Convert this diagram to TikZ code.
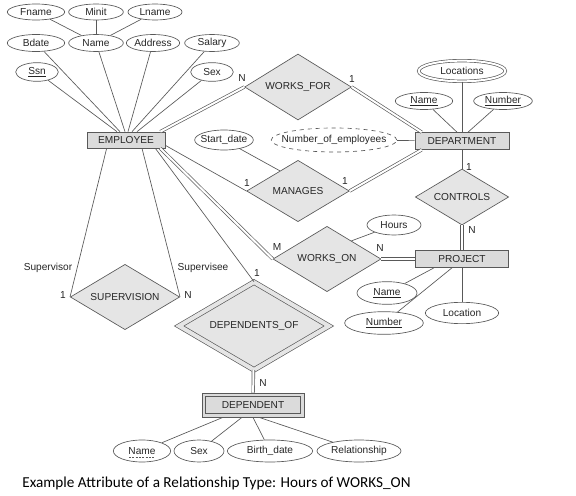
\documentclass[tikz,border=0pt]{standalone}
\usepackage{fontspec}
\setmainfont{Liberation Sans}
\newfontfamily\captionfont{Carlito}
\usetikzlibrary{shapes.geometric,calc}
\definecolor{linegray}{gray}{0.35}
\definecolor{boxgray}{gray}{0.86}
\definecolor{diagray}{gray}{0.9}
\tikzset{
  every node/.style={font=\fontsize{7.6}{9}\selectfont, text=black!85},
  entity/.style={rectangle, draw=linegray, fill=boxgray, inner sep=0pt, minimum height=12pt},
  rel/.style={diamond, aspect=2, draw=linegray, fill=diagray, inner sep=0pt},
  idrel/.style={rel, double=diagray, double distance=3pt},
  attr/.style={ellipse, draw=linegray, fill=white, inner xsep=-3pt, inner ysep=0pt, minimum height=12.75pt},
  multiattr/.style={attr, double, double distance=1.5pt},
  derivedattr/.style={attr, dashed},
  total/.style={double, double distance=1.5pt},
  lbl/.style={inner sep=1pt}
}
\begin{document}
\begin{tikzpicture}[x=0.75pt, y=-0.75pt, line width=0.5pt, draw=linegray]
        \useasboundingbox (0,0) rectangle (576,496);
        \node[attr, minimum width=43pt, minimum height=12pt] (fname) at (36,12) {Fname};
        \node[attr, minimum width=41pt, minimum height=12pt] (minit) at (96,12) {Minit};
        \node[attr, minimum width=40.5pt, minimum height=12pt] (lname) at (155,12) {Lname};
        \node[attr, minimum width=43pt] (bdate) at (36,43) {Bdate};
        \node[attr, minimum width=41pt] (ename) at (96,43) {Name};
        \node[attr, minimum width=40pt] (address) at (153,43) {Address};
        \node[attr, minimum width=41pt] (salary) at (212,43) {Salary};
        \node[attr, minimum width=32pt, minimum height=14pt] (ssn) at (37,72) {\underline{Ssn}};
        \node[attr, minimum width=32pt, minimum height=14pt] (esex) at (212,72) {Sex};
        \node[entity, minimum width=58.5pt] (emp) at (126,140) {EMPLOYEE};
        \node[attr, minimum width=44pt, minimum height=15pt] (startdate) at (224,140) {Start\_date};
        \node[derivedattr, inner xsep=-6pt, minimum width=94pt, minimum height=18pt] (numemp) at (334,140) {Number\_of\_employees};
        \node[rel, minimum width=80pt, minimum height=49.5pt] (worksfor) at (298,87) {WORKS\_FOR};
        \node[entity, minimum width=70.5pt, minimum height=12.75pt] (dept) at (462,141) {DEPARTMENT};
        \node[multiattr, minimum width=65pt, minimum height=15.5pt] (locations) at (462,71) {Locations};
        \node[attr, minimum width=43pt] (dname) at (424,101) {\underline{Name}};
        \node[attr, minimum width=44pt] (dnumber) at (503,101) {\underline{Number}};
        \node[rel, minimum width=77pt, minimum height=46pt] (manages) at (298,191) {MANAGES};
        \node[rel, minimum width=70pt, minimum height=42pt] (controls) at (462,197) {CONTROLS};
        \node[attr, minimum width=40.5pt, minimum height=15pt] (hours) at (394,225) {Hours};
        \node[rel, minimum width=81pt, minimum height=49pt] (workson) at (327,259) {WORKS\_ON};
        \node[entity, minimum width=70pt, minimum height=12.75pt] (proj) at (462,259) {PROJECT};
        \node[attr, minimum width=45pt, minimum height=17pt] (pname) at (387,293) {\underline{Name}};
        \node[attr, minimum width=59pt, minimum height=17pt] (pnumber) at (384,323) {\underline{Number}};
        \node[attr, minimum width=55pt, minimum height=16pt] (location) at (462,313) {Location};
        \node[rel, minimum width=82pt, minimum height=49pt] (supervision) at (125,297) {SUPERVISION};
        \node[idrel, minimum width=112.5pt, minimum height=66pt] (depof) at (254,326) {DEPENDENTS\_OF};
        \node[entity, minimum width=76.5pt, minimum height=18pt] (dependent) at (253,405) {DEPENDENT};
        \draw ($(dependent.south west)+(4,-4)$) rectangle ($(dependent.north east)+(-4,4)$);
        \node[attr, minimum width=43pt, minimum height=16.5pt] (depname) at (142,451) {Name};
        \node[attr, minimum width=37.5pt, minimum height=16.5pt] (depsex) at (199,451) {Sex};
        \node[attr, minimum width=64pt, minimum height=16.5pt] (birthdate) at (270,451) {Birth\_date};
        \node[attr, minimum width=63pt, minimum height=16.5pt] (relationship) at (359,451) {Relationship};
        \node[anchor=west, inner sep=0pt, font=\captionfont\fontsize{11.4}{13}\selectfont, text=black] (caption) at (22,483) {Example Attribute of a Relationship Type: Hours of WORKS\_ON};

        \draw[dash pattern=on 1.5pt off 1pt] ($(depname.center)+(-13,6)$) -- ($(depname.center)+(13,6)$);
        \draw (fname) -- (ename);
        \draw (minit) -- (ename);
        \draw (lname) -- (ename);
        \draw (ssn) -- ($(emp.north)+(-9,0)$);
        \draw (bdate) -- ($(emp.north)+(-6,0)$);
        \draw (ename) -- ($(emp.north)+(-1,0)$);
        \draw (address) -- ($(emp.north)+(2,0)$);
        \draw (salary) -- ($(emp.north)+(6,0)$);
        \draw (esex) -- ($(emp.north)+(11,0)$);
        \draw[total] ($(emp.north east)+(-5,0)$) -- (worksfor.west);
        \draw[total] (worksfor.east) -- ($(dept.north west)+(7,0)$);
        \draw ($(emp.south east)+(0,-3)$) -- (manages.west);
        \draw[total] (manages.east) -- ($(dept.south west)+(7,0)$);
        \draw (startdate) -- ($(manages.north)!0.35!(manages.west)$);
        \draw (numemp) -- (dept);
        \draw (locations) -- (dept.north);
        \draw (dname) -- ($(dept.north)+(-5,0)$);
        \draw (dnumber) -- ($(dept.north)+(6,0)$);
        \draw (dept) -- (controls);
        \draw[total] (controls) -- (proj);
        \draw[total] ($(emp.south east)+(-5,0)$) -- (workson.west);
        \draw[total] (workson.east) -- (proj.west);
        \draw (hours) -- ($(workson.north)!0.45!(workson.east)$);
        \draw (pname) -- ($(proj.south west)+(19,0)$);
        \draw (pnumber) -- ($(proj.south west)+(37,0)$);
        \draw (location) -- (proj.south);
        \draw ($(emp.south west)+(20,0)$) -- (supervision.west);
        \draw ($(emp.south)+(16,0)$) -- (supervision.east);
        \draw ($(emp.south east)+(-10,0)$) -- (depof.north);
        \draw[total] (depof) -- (dependent);
        \draw (depname) -- ($(dependent.south)+(-30,0)$);
        \draw (depsex) -- ($(dependent.south)+(-11,0)$);
        \draw (birthdate) -- (dependent.south);
        \draw (relationship) -- ($(dependent.south)+(6,0)$);

        \node[lbl] (n1) at (242,78) {N};
        \node[lbl] (n2) at (352,79) {1};
        \node[lbl] (n3) at (247,183) {1};
        \node[lbl] (n4) at (345,181) {1};
        \node[lbl] (n5) at (469,167) {1};
        \node[lbl] (n6) at (472,230) {N};
        \node[lbl] (n7) at (277,247) {M};
        \node[lbl] (n8) at (380,248) {N};
        \node[lbl] (supervisor) at (48,268) {Supervisor};
        \node[lbl] (supervisee) at (203,268) {Supervisee};
        \node[lbl] (n9) at (63,295) {1};
        \node[lbl] (n10) at (188,295) {N};
        \node[lbl] (n11) at (257,273) {1};
        \node[lbl] (n12) at (263,383) {N};
    \end{tikzpicture}
\end{document}
